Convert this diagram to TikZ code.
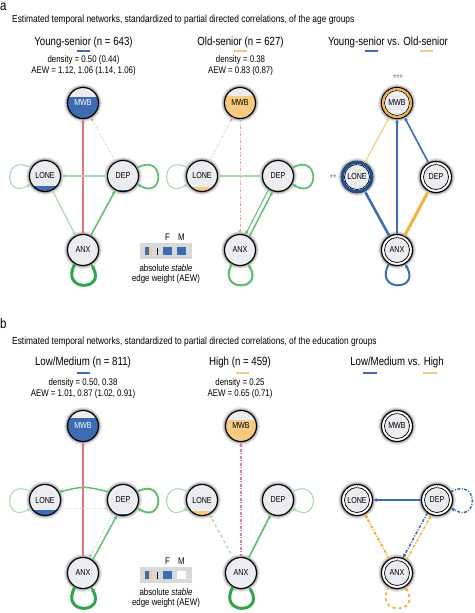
\documentclass[tikz,border=0pt]{standalone}
\usepackage{fontspec}
\setmainfont{Liberation Sans}[FakeStretch=0.82]
\usetikzlibrary{arrows.meta,calc}
\definecolor{cblue}{HTML}{3D6CB3}
\definecolor{dblue}{HTML}{1D4F91}
\definecolor{norange}{HTML}{F7CA82}
\definecolor{corL}{HTML}{F6CD85}
\definecolor{corD}{HTML}{F4B142}
\definecolor{cred}{HTML}{E5737A}
\definecolor{cpink}{HTML}{F2A0A8}
\definecolor{cpinkD}{HTML}{DE7F8F}
\definecolor{gL}{HTML}{A6D8AC}
\definecolor{gM}{HTML}{63BF72}
\definecolor{gD}{HTML}{2FA64B}
\definecolor{gG}{HTML}{C9DFCC}
\definecolor{nfill}{HTML}{ECEDF1}
\definecolor{lgray}{HTML}{D8D9DB}
\tikzset{
  gn/.style={circle,minimum size=31pt,inner sep=0pt,draw=black,line width=1.1pt,font=\fontsize{8.7}{9}\selectfont},
  e/.style={-{Triangle[length=4pt,width=3.2pt]}},
  dashdot/.style={dash pattern=on 3pt off 1.5pt on 1pt off 1.5pt},
  tt/.style={font=\fontsize{11.8}{12}\selectfont,inner sep=0pt},
  st/.style={font=\fontsize{9.6}{10}\selectfont,inner sep=0pt},
  sub/.style={font=\fontsize{10.2}{11}\selectfont,inner sep=0pt,anchor=west},
  lab/.style={font=\fontsize{14}{14}\selectfont,inner sep=0pt,anchor=west},
  star/.style={font=\fontsize{10}{10}\selectfont,inner sep=0pt,text=gray},
}
\newcommand{\halo}[2]{%
  \fill[black,opacity=0.10] (#1,#2) circle (18.8pt);
  \fill[black,opacity=0.15] (#1,#2) circle (17.6pt);
  \fill[black,opacity=0.28] (#1,#2) circle (16.6pt);
}
\newcommand{\gnode}[7]{%
  \halo{#2}{#3}
  \fill[nfill] (#2,#3) circle (15.5pt);
  \begin{scope}
    \clip (#2,#3) circle (15.5pt);
    \fill[#5] ({#2-16},{#3+15.5-31*#6}) rectangle ({#2+16},{#3+16});
  \end{scope}
  \node[gn,text=#7] (#1) at (#2,#3) {#4};
}
\newcommand{\dnode}[4]{%
  \halo{#2}{#3}
  \fill[white] (#2,#3) circle (15.5pt);
  \draw[black,line width=0.7pt,fill=nfill] (#2,#3) circle (12.5pt);
  \draw[gray!60,line width=0.5pt] (#2,{#3-12.5}) -- (#2,{#3-14.8});
  \node[gn] (#1) at (#2,#3) {#4};
}
\newcommand{\loopL}[2]{\draw[e,#2] (#1.150) .. controls +(-28,-16) and +(-28,16) .. (#1.210);}
\newcommand{\loopR}[2]{\draw[e,#2] (#1.30) .. controls +(28,-16) and +(28,16) .. (#1.330);}
\newcommand{\loopB}[2]{\draw[e,#2] (#1.240) .. controls +(-16,28) and +(16,28) .. (#1.300);}
\newcommand{\legendbox}[2]{% y of box top, color of M square
  \fill[lgray] (140,#1) rectangle (192,{#1+16});
  \fill[cblue] (145,{#1+4}) rectangle (149,{#1+12});
  \fill[norange] (149,{#1+4}) rectangle (152,{#1+12});
  \draw[black,line width=0.8pt] (157,{#1+5}) -- (157,{#1+12});
  \fill[cblue] (163,{#1+4}) rectangle (172,{#1+12});
  \fill[#2] (177,{#1+4}) rectangle (186,{#1+12});
  \node[st] (F#1) at (167.5,{#1-6}) {F};
  \node[st] (M#1) at (181.5,{#1-6}) {M};
  \node[st] (L1#1) at (166,{#1+25}) {absolute \textit{stable}};
  \node[st] (L2#1) at (166,{#1+36}) {edge weight (AEW)};
}
\begin{document}
\begin{tikzpicture}[x=1pt,y=-1pt]
\useasboundingbox (0,0) rectangle (474,613);
\fill[white] (0,0) rectangle (474,613);

% ---------------- panel a ----------------
\node[lab] (la) at (0,7) {a};
\node[sub] (suba) at (12,20) {Estimated temporal networks, standardized to partial directed correlations, of the age groups};
\node[tt] (ta1) at (83.5,42) {Young-senior (n = 643)};
\draw[cblue,line width=2pt] (77,51) -- (90,51);
\node[st] (da1) at (83.5,60) {density = 0.50 (0.44)};
\node[st] (ea1) at (83.5,71) {AEW = 1.12, 1.06 (1.14, 1.06)};
\node[tt] (ta2) at (240.5,42) {Old-senior (n = 627)};
\draw[norange,line width=2pt] (234,51) -- (247,51);
\node[st] (da2) at (240.5,60) {density = 0.38};
\node[st] (ea2) at (240.5,71) {AEW = 0.83 (0.87)};
\node[tt] (ta3) at (388,42) {Young-senior vs. Old-senior};
\draw[cblue,line width=2pt] (365,51) -- (378,51);
\draw[norange,line width=2pt] (420,51) -- (433,51);

\gnode{a1mwb}{83}{103}{MWB}{cblue}{0.7}{white}
\gnode{a1lone}{45}{176}{LONE}{cblue}{0.17}{black}
\gnode{a1dep}{123}{176}{DEP}{cblue}{0.06}{black}
\gnode{a1anx}{83}{250}{ANX}{cblue}{0.03}{black}

\gnode{a2mwb}{240}{103}{MWB}{norange}{0.72}{black}
\gnode{a2lone}{202}{176}{LONE}{norange}{0.15}{black}
\gnode{a2dep}{278}{176}{DEP}{norange}{0.05}{black}
\gnode{a2anx}{240}{250}{ANX}{norange}{0.02}{black}

\dnode{a3mwb}{397}{103}{MWB}
\draw[corD,line width=2pt] (397,103) circle (14pt);
\dnode{a3lone}{357}{177}{LONE}
\draw[dblue,line width=3pt] (357,177) circle (14.6pt);
\dnode{a3dep}{436}{177}{DEP}
\dnode{a3anx}{397}{250}{ANX}
\node[star] (s3) at (398,78) {***};
\node[star] (s2) at (333,178) {**};

% edges a1
\draw[e,cred,line width=1.8pt] (a1anx) -- (a1mwb);
\draw[e,cpink,line width=0.8pt,dotted] (a1dep) -- (a1mwb);
\draw[e,gL,line width=1.1pt] (a1dep) -- (a1lone);
\draw[e,gL,line width=1.1pt] (a1lone) -- (a1anx);
\draw[e,gM,line width=1.6pt] (a1anx) -- (a1dep);
\loopL{a1lone}{gL,line width=1pt}
\loopR{a1dep}{gM,line width=1.8pt}
\loopB{a1anx}{gD,line width=3pt}

% edges a2
\draw[e,cpink,line width=0.8pt,dotted] (a2lone) -- (a2mwb);
\draw[e,cpink,line width=0.8pt,dashdot] (a2mwb) -- (a2anx);
\draw[e,gL,line width=1.2pt] (a2dep) -- (a2lone);
\draw[e,gM,line width=1pt] ([shift={(-2pt,1pt)}]a2dep.243) -- ([shift={(-2pt,1pt)}]a2anx.63);
\draw[e,gM,line width=1.5pt] ([shift={(2pt,-1pt)}]a2anx.63) -- ([shift={(2pt,-1pt)}]a2dep.243);
\loopL{a2lone}{gL,line width=1pt}
\loopR{a2dep}{gM,line width=1.8pt}
\loopB{a2anx}{gM,line width=2.2pt}

% edges a3
\draw[e,corL,line width=1.2pt] (a3lone) -- (a3mwb);
\draw[e,cblue,line width=1.6pt] (a3anx) -- (a3mwb);
\draw[e,cblue,line width=1.6pt] (a3dep) -- (a3mwb);
\draw[e,cblue,line width=2.5pt] (a3anx) -- (a3lone);
\draw[e,corD,line width=3pt] (a3anx) -- (a3dep);
\loopB{a3anx}{cblue,line width=2pt}

\legendbox{243}{cblue}

% ---------------- panel b ----------------
\node[lab] (lb) at (0,323) {b};
\node[sub] (subb) at (12,342) {Estimated temporal networks, standardized to partial directed correlations, of the education groups};
\node[tt] (tb1) at (83,362) {Low/Medium (n = 811)};
\draw[cblue,line width=2pt] (77,373) -- (90,373);
\node[st] (db1) at (83,383) {density = 0.50, 0.38};
\node[st] (eb1) at (83,394) {AEW = 1.01, 0.87 (1.02, 0.91)};
\node[tt] (tb2) at (240,362) {High (n = 459)};
\draw[norange,line width=2pt] (236,373) -- (249,373);
\node[st] (db2) at (240,383) {density = 0.25};
\node[st] (eb2) at (240,394) {AEW = 0.65 (0.71)};
\node[tt] (tb3) at (397,362) {Low/Medium vs. High};
\draw[cblue,line width=2pt] (363,373) -- (377,373);
\draw[norange,line width=2pt] (423,373) -- (437,373);

\gnode{b1mwb}{83}{426}{MWB}{cblue}{0.75}{white}
\gnode{b1lone}{45}{500}{LONE}{cblue}{0.17}{black}
\gnode{b1dep}{123}{500}{DEP}{cblue}{0.06}{black}
\gnode{b1anx}{83}{573}{ANX}{cblue}{0.02}{black}

\gnode{b2mwb}{241}{426}{MWB}{norange}{0.68}{black}
\gnode{b2lone}{202}{500}{LONE}{norange}{0.15}{black}
\gnode{b2dep}{278}{500}{DEP}{norange}{0.05}{black}
\gnode{b2anx}{241}{573}{ANX}{norange}{0.02}{black}

\dnode{b3mwb}{397}{426}{MWB}
\dnode{b3lone}{357}{500}{LONE}
\dnode{b3dep}{437}{500}{DEP}
\dnode{b3anx}{397}{573}{ANX}

% edges b1
\draw[e,cred,line width=1.2pt] (b1anx) -- (b1mwb);
\draw[e,gM,line width=1.5pt] (b1dep.150) .. controls (84,486) .. (b1lone.30);
\draw[e,gG,line width=1pt,dotted] (b1lone.-30) -- (b1dep.210);
\draw[e,gM,line width=1.5pt] ([shift={(1.9pt,-1pt)}]b1anx.61) -- ([shift={(1.9pt,-1pt)}]b1dep.241);
\draw[e,gL,line width=0.9pt,dotted] ([shift={(-1.9pt,1pt)}]b1dep.241) -- ([shift={(-1.9pt,1pt)}]b1anx.61);
\loopL{b1lone}{gL,line width=1pt}
\loopR{b1dep}{gM,line width=2pt}
\loopB{b1anx}{gD,line width=3pt}

% edges b2
\draw[e,cpinkD,line width=1.2pt,dashdot] (b2anx) -- (b2mwb);
\draw[e,gL,line width=1.2pt,dashed] (b2anx) -- (b2lone);
\draw[e,gM,line width=1.7pt] (b2anx) -- (b2dep);
\loopL{b2lone}{gL,line width=1pt}
\loopR{b2dep}{gL,line width=1pt}
\loopB{b2anx}{gD,line width=3pt}

% edges b3
\draw[e,cblue,line width=1.8pt] (b3dep) -- (b3lone);
\loopR{b3dep}{cblue,line width=1.5pt,dashdot}
\draw[e,cblue,line width=1.5pt,dashdot] ([shift={(-1.9pt,1pt)}]b3dep.241) -- ([shift={(-1.9pt,1pt)}]b3anx.61);
\draw[e,corD,line width=1.5pt,dashdot] ([shift={(1.9pt,-1pt)}]b3anx.61) -- ([shift={(1.9pt,-1pt)}]b3dep.241);
\draw[e,corD,line width=2pt,dashdot] (b3anx) -- (b3lone);
\loopB{b3anx}{corD,line width=1.8pt,dashed}

\legendbox{567}{white}
\end{tikzpicture}
\end{document}
